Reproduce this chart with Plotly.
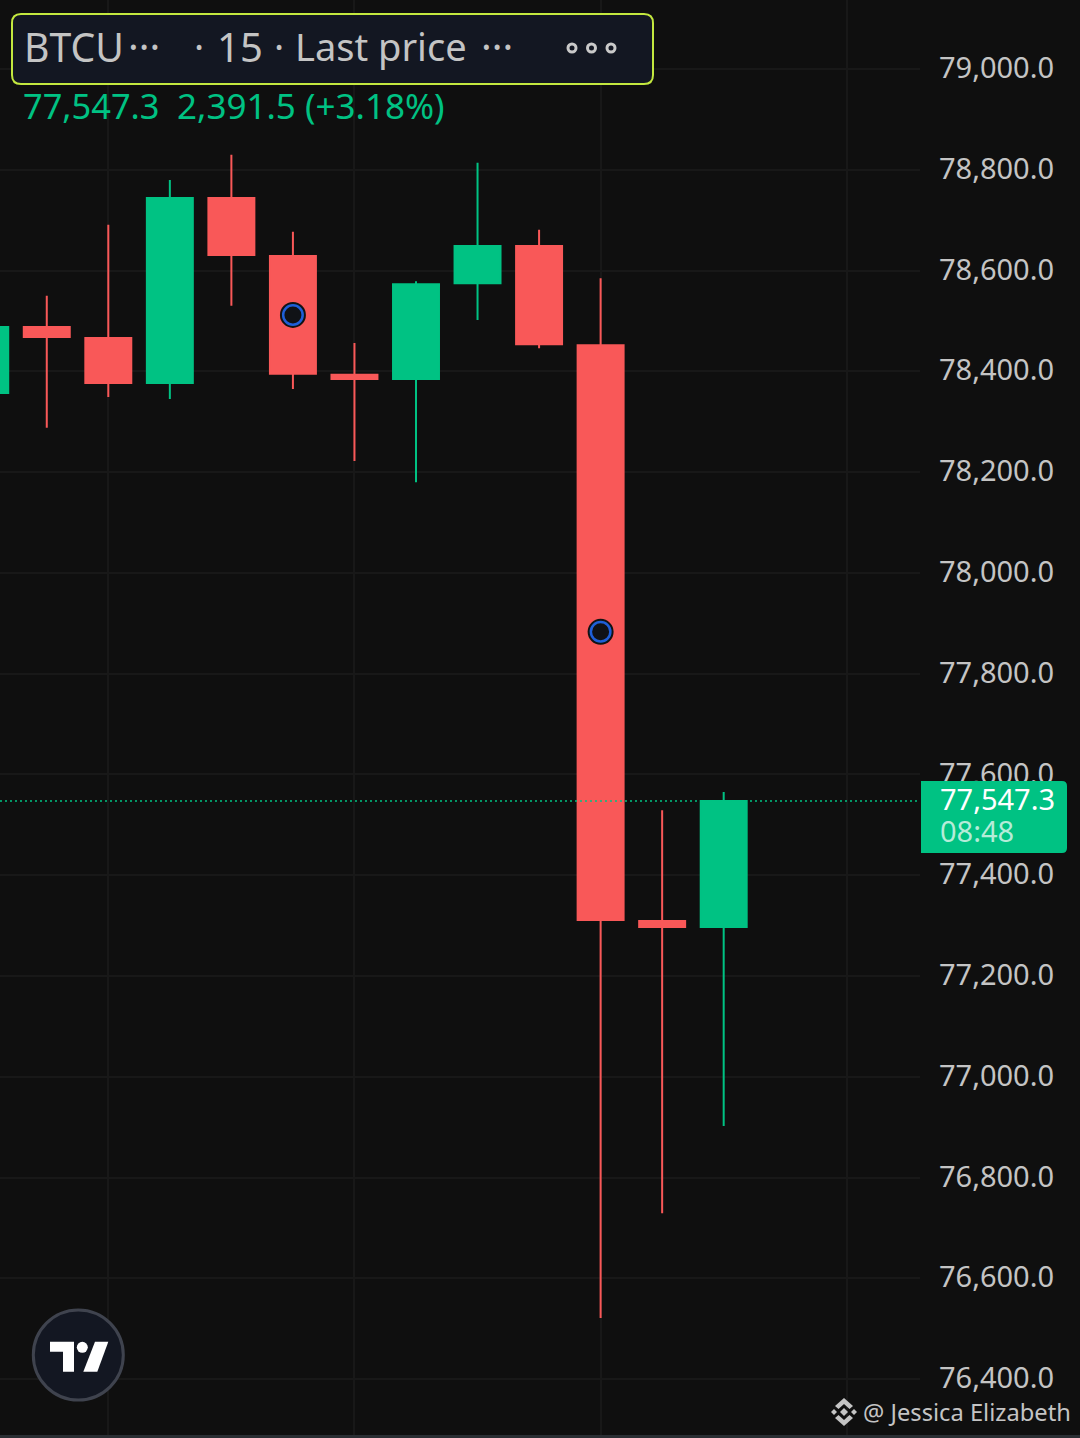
import plotly.graph_objects as go

W, H = 1080, 1438
PLOT_W = 920

bar_index = list(range(13))
opens = [78357, 78488, 78466, 78377, 78744, 78629, 78393, 78385, 78575, 78649, 78452, 77309, 77297]
highs = [78500, 78550, 78691, 78780, 78830, 78677, 78456, 78579, 78814, 78681, 78585, 77529, 77565]
lows = [78340, 78288, 78349, 78345, 78530, 78365, 78222, 78180, 78502, 78446, 76521, 76729, 76902]
closes = [78488, 78468, 78377, 78744, 78631, 78395, 78385, 78573, 78649, 78454, 77311, 77297, 77547.3]

marker_index = [5, 10]
marker_price = [78512, 77883]

price_ticks = [79000, 78800, 78600, 78400, 78200, 78000, 77800, 77600, 77400, 77200, 77000, 76800, 76600, 76400]
price_labels = ["79,000.0", "78,800.0", "78,600.0", "78,400.0", "78,200.0", "78,000.0", "77,800.0",
                "77,600.0", "77,400.0", "77,200.0", "77,000.0", "76,800.0", "76,600.0", "76,400.0"]
time_grid = [2, 6, 10, 14]
last_price = 77547.3

BG = "#0f0f0f"
GRID = "#181818"
GREEN = "#00c283"
RED = "#f95858"
PANEL = "#131722"
TEXT = "#c4c4c4"
FONT = "Noto Sans"


def px(x):
    return x / PLOT_W


def py(y):
    return 1 - y / H


def round_rect(x0, y0, x1, y1, rl, rr):
    # rl / rr: corner radius on the left and right side
    pts = [
        f"M{px(x0 + rl)},{py(y0)}", f"L{px(x1 - rr)},{py(y0)}",
        f"Q{px(x1)},{py(y0)} {px(x1)},{py(y0 + rr)}", f"L{px(x1)},{py(y1 - rr)}",
        f"Q{px(x1)},{py(y1)} {px(x1 - rr)},{py(y1)}", f"L{px(x0 + rl)},{py(y1)}",
        f"Q{px(x0)},{py(y1)} {px(x0)},{py(y1 - rl)}", f"L{px(x0)},{py(y0 + rl)}",
        f"Q{px(x0)},{py(y0)} {px(x0 + rl)},{py(y0)}", "Z",
    ]
    return "".join(pts)


def poly(points):
    return "M" + "L".join(f"{px(x)},{py(y)}" for x, y in points) + "Z"


def path_shape(path, fill, line="rgba(0,0,0,0)", width=0):
    return dict(type="path", xref="paper", yref="paper", path=path, fillcolor=fill,
                line=dict(color=line, width=width), layer="above")


def circle(cx, cy, r, fill, line="rgba(0,0,0,0)", width=0):
    return dict(type="circle", xref="paper", yref="paper", x0=px(cx - r), x1=px(cx + r),
                y0=py(cy + r), y1=py(cy - r), fillcolor=fill,
                line=dict(color=line, width=width), layer="above")


def label(x, y, text, size, color):
    return dict(xref="paper", yref="paper", x=px(x), y=py(y), text=text, showarrow=False,
                xanchor="left", yanchor="middle", borderpad=0, align="left",
                font=dict(family=FONT, size=size, color=color))


fig = go.Figure()
fig.add_trace(go.Candlestick(
    x=bar_index, open=opens, high=highs, low=lows, close=closes,
    increasing=dict(line=dict(color=GREEN, width=2), fillcolor=GREEN),
    decreasing=dict(line=dict(color=RED, width=2), fillcolor=RED),
    whiskerwidth=0, hoverinfo="skip", showlegend=False,
))
fig.add_trace(go.Scatter(
    x=marker_index, y=marker_price, mode="markers", hoverinfo="skip", showlegend=False,
    marker=dict(size=26, color="#131313", line=dict(width=0)),
))
fig.add_trace(go.Scatter(
    x=marker_index, y=marker_price, mode="markers", hoverinfo="skip", showlegend=False,
    marker=dict(size=19.5, color="#101216", line=dict(color="#1f5fd8", width=2.5)),
))

shapes = [
    dict(type="line", xref="x domain", yref="y", x0=0, x1=1, y0=last_price, y1=last_price,
         line=dict(color=GREEN, width=1.5, dash="2px,3px"), layer="above"),
    # last price tag
    path_shape(round_rect(921, 781, 1067, 853, 0, 5), GREEN),
    # legend box
    path_shape(round_rect(12, 14, 653, 84, 9, 9), PANEL, "#c3e83f", 2),
    circle(572, 48, 4, "rgba(0,0,0,0)", "#c9c9c9", 3),
    circle(591.5, 48, 4, "rgba(0,0,0,0)", "#c9c9c9", 3),
    circle(611, 48, 4, "rgba(0,0,0,0)", "#c9c9c9", 3),
    # logo
    circle(78.3, 1355, 45, PANEL, "#3f434e", 3),
    path_shape(poly([(50, 1341.7), (74, 1341.7), (74, 1371.7), (63, 1371.7), (63, 1351.7), (50, 1351.7)]), "#ffffff"),
    circle(82.3, 1347.3, 5.5, "#ffffff"),
    path_shape(poly([(95, 1341.7), (108.3, 1341.7), (97.3, 1371.7), (83.3, 1371.7)]), "#ffffff"),
    # watermark icon
    path_shape(poly([(844, 1398), (853, 1406), (849.5, 1409), (844, 1404), (838.5, 1409), (835, 1406)]), "#c4c4c4"),
    path_shape(poly([(844, 1426), (853, 1418), (849.5, 1415), (844, 1420), (838.5, 1415), (835, 1418)]), "#c4c4c4"),
    path_shape(poly([(844, 1408), (848, 1412), (844, 1416), (840, 1412)]), "#c4c4c4"),
    path_shape(poly([(834, 1409), (837, 1412), (834, 1415), (831, 1412)]), "#c4c4c4"),
    path_shape(poly([(854, 1409), (857, 1412), (854, 1415), (851, 1412)]), "#c4c4c4"),
    # bottom strip
    dict(type="rect", xref="paper", yref="paper", x0=0, x1=px(W), y0=0, y1=py(1435),
         fillcolor="#2a2e33", line=dict(width=0), layer="above"),
]

annotations = [
    label(23, 46.5, "BTCU", 39.2, TEXT),
    label(127, 45.5, "···", 40, TEXT),
    label(193, 46.5, "·", 38, TEXT),
    label(216, 46.5, "15", 40, TEXT),
    label(273, 46.5, "·", 38, TEXT),
    label(294, 46.5, "Last price", 38, TEXT),
    label(480, 45.5, "···", 40, TEXT),
    label(22, 105.5, "77,547.3", 34.4, GREEN),
    label(176, 105.5, "2,391.5 (+3.18%)", 35, GREEN),
    label(939, 798.5, "77,547.3", 29, "#ffffff"),
    label(939, 830.5, "08:48", 29, "#b5ecd8"),
    label(862, 1412, "@ Jessica Elizabeth", 23.7, "#c4c4c4"),
]

fig.update_layout(
    width=W, height=H,
    margin=dict(l=0, r=W - PLOT_W, t=0, b=0),
    paper_bgcolor=BG, plot_bgcolor=BG,
    boxgap=0.253,
    boxgroupgap=0,
    showlegend=False,
    shapes=shapes,
    annotations=annotations,
    xaxis=dict(range=[0.24, 15.19], tickvals=time_grid, showticklabels=False, ticks="",
               showgrid=True, gridcolor=GRID, gridwidth=2, zeroline=False,
               rangeslider=dict(visible=False)),
    yaxis=dict(range=[76283, 79137], side="right", tickvals=price_ticks, ticktext=price_labels,
               showgrid=True, gridcolor=GRID, gridwidth=2, zeroline=False, ticks="",
               ticklabelstandoff=18, ticklabelshift=-1,
               tickfont=dict(family=FONT, size=29, color=TEXT)),
)

fig.write_html("out.html", config=dict(displayModeBar=False),
               post_script="document.body.style.margin='0';document.body.style.overflow='hidden';")
